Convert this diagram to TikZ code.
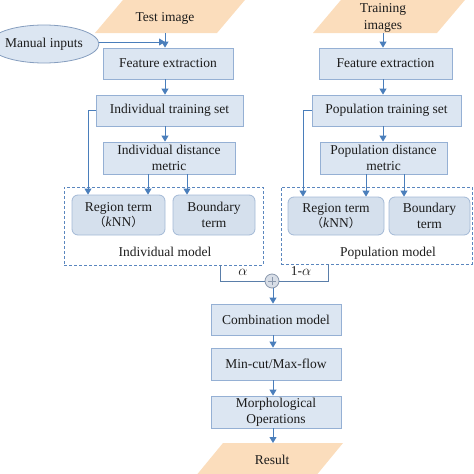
\documentclass[tikz,border=0pt]{standalone}
\usepackage{fontspec}
\setmainfont{Liberation Serif}
\newfontfamily\cjk{Noto Sans CJK SC}
\usetikzlibrary{arrows.meta,shapes.geometric}
\definecolor{boxfill}{HTML}{DCE6F2}
\definecolor{boxdraw}{HTML}{95B0D4}
\definecolor{rfill}{HTML}{D5E0ED}
\definecolor{rdraw}{HTML}{A3B9D6}
\definecolor{arrc}{HTML}{4A7EBB}
\definecolor{peach}{HTML}{FBDDBC}
\definecolor{txt}{HTML}{1C1C1C}
\definecolor{dashc}{HTML}{5A86BE}
\definecolor{plusfill}{HTML}{D8DEE7}
\definecolor{plusdraw}{HTML}{8A98AD}
\newcommand{\lp}{{\cjk\fontsize{12}{12}\selectfont （}}
\newcommand{\rp}{{\cjk\fontsize{12}{12}\selectfont ）}}
\tikzset{
  every node/.style={text=txt, font=\fontsize{13.5}{15.5}\selectfont},
  boxn/.style={draw=boxdraw, fill=boxfill, line width=0.8pt, inner sep=0pt, align=center},
  termn/.style={draw=rdraw, fill=rfill, line width=0.8pt, rounded corners=6pt, inner sep=0pt, align=center},
  dashn/.style={draw=dashc, dash pattern=on 3pt off 2pt, line width=0.8pt, inner sep=0pt},
  arr/.style={draw=arrc, line width=1pt, -{Triangle[width=7pt,length=6pt]}},
  ln/.style={draw=arrc, line width=1pt},
  glines/.style={draw=plusdraw, line width=0.8pt},
  para/.style={fill=peach, draw=none}
}
\begin{document}
\begin{tikzpicture}[x=1pt, y=-1pt]
\useasboundingbox (0,0) rectangle (474,474);
\clip (0,0) rectangle (474,474);
% input parallelograms
\path[para] (95,33) -- (217,33) -- (250,-6) -- (128,-6) -- cycle;
\node (ti) at (165,18) {Test image};
\path[para] (313,33) -- (437,33) -- (470,-6) -- (346,-6) -- cycle;
\node[align=center, font=\fontsize{13.5}{16.5}\selectfont] (tr) at (383,18) {Training\\images};
% manual inputs
\node[ellipse, draw=boxdraw!90!black, fill=boxfill, line width=0.8pt, minimum width=88pt, minimum height=38pt, inner sep=0pt] (mi) at (44,44) {Manual inputs};
% left column
\node[boxn, minimum width=130pt, minimum height=31pt] (fe1) at (168,63.5) {Feature extraction};
\node[boxn, minimum width=147pt, minimum height=31pt] (ts1) at (169.5,110.5) {Individual training set};
\node[boxn, minimum width=132pt, minimum height=32pt] (dm1) at (169,158) {Individual distance\\metric};
\node[dashn, minimum width=199pt, minimum height=78pt] (d1) at (163.5,226) {};
\node[termn, minimum width=93pt, minimum height=40pt] (rt1) at (118.5,215) {Region term\\\lp\textit{k}NN\rp};
\node[termn, minimum width=82pt, minimum height=40pt] (bt1) at (214,215) {Boundary\\term};
\node (im) at (165,252) {Individual model};
% right column
\node[boxn, minimum width=133pt, minimum height=31pt] (fe2) at (385.5,63.5) {Feature extraction};
\node[boxn, minimum width=149pt, minimum height=31pt] (ts2) at (386.5,110.5) {Population training set};
\node[boxn, minimum width=127pt, minimum height=32pt] (dm2) at (383.5,158) {Population distance\\metric};
\node[dashn, minimum width=191pt, minimum height=77pt] (d2) at (376.5,225.5) {};
\node[termn, minimum width=96pt, minimum height=38pt] (rt2) at (336,216) {Region term\\\lp\textit{k}NN\rp};
\node[termn, minimum width=81pt, minimum height=38pt] (bt2) at (429.5,216) {Boundary\\term};
\node (pm) at (388,253) {Population model};
% combination
\node[circle, fill=plusfill, draw=plusdraw, line width=0.8pt, minimum size=14pt, inner sep=0pt] (pl) at (272,281) {};
\draw[glines] ([xshift=-4pt]pl.center) -- ([xshift=4pt]pl.center);
\draw[glines] ([yshift=-4pt]pl.center) -- ([yshift=4pt]pl.center);
\node (al) at (243,272) {$\alpha$};
\node (oal) at (301,271) {1-$\alpha$};
\node[boxn, minimum width=130pt, minimum height=31pt] (cm) at (276,319.5) {Combination model};
\node[boxn, minimum width=130pt, minimum height=32pt] (mc) at (276,364) {Min-cut/Max-flow};
\node[boxn, minimum width=130pt, minimum height=32pt] (mo) at (276,412) {Morphological\\Operations};
\path[para] (223,443) -- (343,443) -- (315,477) -- (195,477) -- cycle;
\node (re) at (272,460) {Result};
\coordinate (rtop) at (273,443);
% column coordinates
\coordinate (cl) at (165,33);
\coordinate (cr) at (383,33);
\coordinate (cb) at (273,0);
\coordinate (vl) at (88,0);
\coordinate (vr) at (303,0);
\coordinate (a1) at (148,0);
\coordinate (b1) at (187,0);
\coordinate (a2) at (366,0);
\coordinate (b2) at (404,0);
\coordinate (jl) at (220,0);
\coordinate (jr) at (328,0);
\coordinate (mend) at (165,42);
% arrows left
\draw[arr] (cl) -- (fe1.north -| cl);
\draw[arr] (mi.east |- mend) -- (mend);
\draw[arr] (fe1.south -| cl) -- (ts1.north -| cl);
\draw[arr] (ts1.south -| cl) -- (dm1.north -| cl);
\draw[arr] (ts1.west) -| (rt1.north -| vl);
\draw[arr] (dm1.south -| a1) -- (rt1.north -| a1);
\draw[arr] (dm1.south -| b1) -- (bt1.north -| b1);
% arrows right
\draw[arr] (cr) -- (fe2.north -| cr);
\draw[arr] (fe2.south -| cr) -- (ts2.north -| cr);
\draw[arr] (ts2.south -| cr) -- (dm2.north -| cr);
\draw[arr] (ts2.west) -| (rt2.north -| vr);
\draw[arr] (dm2.south -| a2) -- (rt2.north -| a2);
\draw[arr] (dm2.south -| b2) -- (bt2.north -| b2);
% join
\draw[ln, draw=arrc!70!gray] (d1.south -| jl) |- (pl.west);
\draw[ln, draw=arrc!70!gray] (d2.south -| jr) |- (pl.east);
\draw[arr] (pl.south -| cb) -- (cm.north -| cb);
\draw[arr] (cm.south -| cb) -- (mc.north -| cb);
\draw[arr] (mc.south -| cb) -- (mo.north -| cb);
\draw[arr] (mo.south -| cb) -- (rtop);
\end{tikzpicture}
\end{document}
